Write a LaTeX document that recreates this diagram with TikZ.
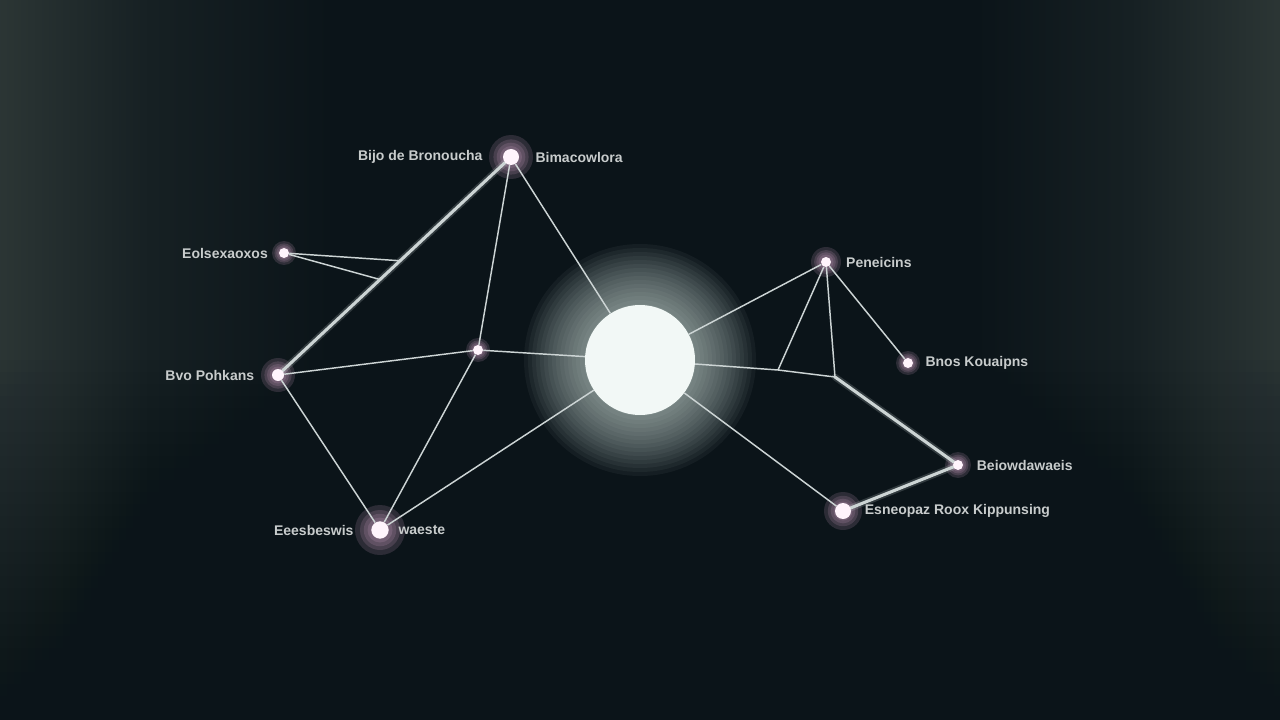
\documentclass[tikz,border=0pt]{standalone}
\usepackage{fontspec}
\setmainfont{Liberation Sans}
\usetikzlibrary{positioning,calc}

\definecolor{bgdark}{RGB}{11,20,25}
\definecolor{bgmid}{RGB}{22,32,35}
\definecolor{bgedge}{RGB}{44,54,53}
\definecolor{wire}{RGB}{204,212,212}
\definecolor{halo}{RGB}{236,182,220}
\definecolor{dotcore}{RGB}{255,244,252}
\definecolor{hubfill}{RGB}{242,248,246}
\definecolor{hubglow}{RGB}{215,232,226}
\definecolor{labeltxt}{RGB}{200,204,204}

% stops between 25bp and 75bp span the path
\pgfdeclarehorizontalshading{bgband}{100bp}{color(0bp)=(bgedge); color(25bp)=(bgedge); color(31bp)=(bgmid); color(38bp)=(bgdark); color(63bp)=(bgdark); color(69bp)=(bgmid); color(75bp)=(bgedge); color(100bp)=(bgedge)}

\pgfdeclarelayer{back}
\pgfdeclarelayer{glow}
\pgfsetlayers{back,glow,main}

\tikzset{every picture/.style={line width=0.75pt}}
\tikzset{
  wire/.style={draw=wire, line width=1.1pt},
  thickwire/.style={draw=wire, line width=2.3pt, line cap=round},
  dot/.style={circle, fill=dotcore, inner sep=0pt, minimum size=7.5pt},
  bigdot/.style={circle, fill=dotcore, inner sep=0pt, minimum size=12pt},
  lbl/.style={text=labeltxt, inner sep=0pt, font=\fontsize{10.5}{12}\selectfont\bfseries},
}

\begin{document}
\begin{tikzpicture}[x=0.75pt,y=0.75pt,yscale=-1,xscale=1]
\useasboundingbox (0,0) rectangle (1280,720);

% background
\begin{pgfonlayer}{back}
\shade[shading=bgband] (-4,-4) rectangle (1284,724);
\foreach \y in {360,372,...,700}
  \fill[bgdark, opacity=0.04] (-4,\y) rectangle (1284,724);
\end{pgfonlayer}

% hub
\node[circle, fill=hubfill, inner sep=0pt, minimum size=82.5pt] (hub) at (640,360) {};

% left group
\node[bigdot] (nTop) at (511,157) {};
\node[dot] (nLeftA) at (284,253) {};
\node[dot, minimum size=9pt] (nLeftB) at (278,375) {};
\node[dot] (nMid) at (478,350) {};
\node[bigdot, minimum size=13pt] (nBot) at (380,530) {};

% right group
\node[dot] (nRA) at (826,262) {};
\node[dot] (nRB) at (908,363) {};
\node[dot] (nRC) at (958,465) {};
\node[bigdot] (nRD) at (843,511) {};
\coordinate (jA) at (778,370);
\coordinate (jB) at (835,377);

% points on the long edge
\coordinate (pA) at ($(nTop)!0.476!(nLeftB)$);
\coordinate (pB) at ($(nTop)!0.562!(nLeftB)$);

% labels
\node[lbl, left=15pt of nTop] (tTopL) {Bijo de Bronoucha};
\node[lbl, right=12pt of nTop] (tTopR) {Bimacowlora};
\node[lbl, left=8pt of nLeftA] (tLeftA) {Eolsexaoxos};
\node[lbl, left=13pt of nLeftB] (tLeftB) {Bvo Pohkans};
\node[lbl, left=13pt of nBot] (tBotL) {Eeesbeswis};
\node[lbl, right=7pt of nBot] (tBotR) {waeste};
\node[lbl, right=11pt of nRA] (tRA) {Peneicins};
\node[lbl, right=9pt of nRB] (tRB) {Bnos Kouaipns};
\node[lbl, right=10pt of nRC] (tRC) {Beiowdawaeis};
\node[lbl, right=10pt of nRD] (tRD) {Esneopaz Roox Kippunsing};

\begin{pgfonlayer}{glow}
% glow round the hub
\foreach \r in {56,60,...,116}
  \fill[hubglow, opacity=0.05] (hub) circle (\r);
% glow round the dots
\foreach \n/\s in {nTop/22, nLeftA/12, nLeftB/17, nMid/12, nBot/25, nRA/15, nRB/12, nRC/13, nRD/19}
  \foreach \k in {0.35,0.5,0.65,0.8,1}
    \fill[halo, opacity=0.15] (\n) circle (\k*\s);
% glow under the thick edges
\draw[wire, line width=5pt, opacity=0.2, line cap=round] (nTop) -- (nLeftB);
\draw[wire, line width=5pt, opacity=0.2, line cap=round] (jB) -- (nRC) -- (nRD);

% edges, left
\draw[thickwire] (nTop) -- (nLeftB);
\draw[wire] (nTop) -- (nMid);
\draw[wire] (nTop) -- (hub);
\draw[wire] (nLeftA) -- (pA);
\draw[wire] (nLeftA) -- (pB);
\draw[wire] (nLeftB) -- (nMid);
\draw[wire] (nMid) -- (hub);
\draw[wire] (nLeftB) -- (nBot);
\draw[wire] (nMid) -- (nBot);
\draw[wire] (nBot) -- (hub);

% edges, right
\draw[wire] (hub) -- (nRA);
\draw[wire] (hub) -- (jA) -- (jB);
\draw[wire] (nRA) -- (jA);
\draw[wire] (nRA) -- (jB);
\draw[wire] (nRA) -- (nRB);
\draw[thickwire] (jB) -- (nRC);
\draw[thickwire] (nRC) -- (nRD);
\draw[wire] (hub) -- (nRD);
\end{pgfonlayer}

\end{tikzpicture}
\end{document}
